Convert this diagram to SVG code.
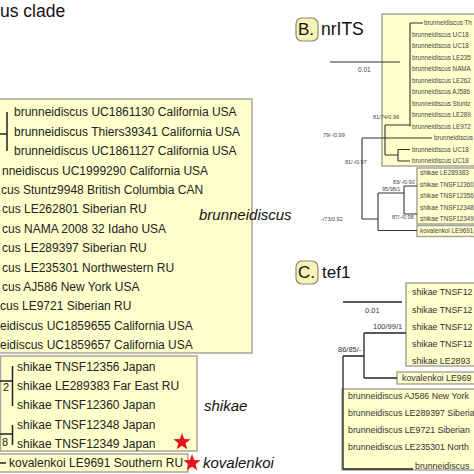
<svg xmlns="http://www.w3.org/2000/svg" xmlns:xlink="http://www.w3.org/1999/xlink" width="474" height="474" viewBox="0 0 474 474">
<style>
.box{fill:#ffffcc;stroke:#a6a69a;stroke-width:1.5}
.t{font-family:"Liberation Sans",Arial,sans-serif;fill:#222}
.a{font-size:12px}
.it{font-size:15px;font-style:italic;fill:#111}
.ttl{font-size:17px;fill:#111}
.b{font-size:6.3px;fill:#444}
.sb{font-size:5.5px;fill:#444}
.c{font-size:8.8px;fill:#333}
.sc{font-size:7.5px;fill:#333}
.ln{stroke:#222;stroke-width:1.5;fill:none}
.lnb{stroke:#333;stroke-width:1.1;fill:none}
.badge{fill:#f7f3b4;stroke:#8a8a70;stroke-width:1.2}
.star{fill:#e8141c}
</style>
<defs>
<polygon id="star" points="0,-9 2.23,-3.07 8.56,-2.78 3.61,1.17 5.29,7.28 0,3.8 -5.29,7.28 -3.61,1.17 -8.56,-2.78 -2.23,-3.07"/>
</defs>

<!-- Panel A -->
<g id="A-title"><text class="t ttl" x="0" y="17" style="font-size:17.5px">us clade</text></g>

<g id="A-brunneidiscus">
<rect class="box" x="-2" y="99" width="254" height="254"/>
<g class="t a">
<text x="14" y="116.3">brunneidiscus UC1861130 California USA</text>
<text x="14" y="135.7">brunneidiscus Thiers39341 California USA</text>
<text x="14" y="155.1">brunneidiscus UC1861127 California USA</text>
<text x="2" y="174.5">nneidiscus UC1999290 California USA</text>
<text x="1" y="193.9">cus Stuntz9948 British Columbia CAN</text>
<text x="2" y="213.3">cus LE262801 Siberian RU</text>
<text x="2" y="232.7">cus NAMA 2008 32 Idaho USA</text>
<text x="2" y="252.1">cus LE289397 Siberian RU</text>
<text x="2" y="271.5">cus LE235301 Northwestern RU</text>
<text x="2" y="290.9">cus AJ586 New York USA</text>
<text x="0" y="310.3">cus LE9721 Siberian RU</text>
<text x="0" y="329.7">eidiscus UC1859655 California USA</text>
<text x="0" y="349.1">eidiscus UC1859657 California USA</text>
</g>
<text class="t it" x="199" y="220.4">brunneidiscus</text>
</g>

<g id="A-shikae">
<rect class="box" x="0.5" y="356" width="196.5" height="95"/>
<g class="t a">
<text x="17" y="370.8">shikae TNSF12356 Japan</text>
<text x="17" y="390.1">shikae LE289383 Far East RU</text>
<text x="17" y="409.4">shikae TNSF12360 Japan</text>
<text x="17" y="428.7">shikae TNSF12348 Japan</text>
<text x="17" y="448">shikae TNSF12349 Japan</text>
<text x="3" y="391" style="font-size:11px">2</text>
<text x="2" y="446" style="font-size:11px">8</text>
</g>
<use xlink:href="#star" class="star" x="182" y="442"/>
<text class="t it" x="204" y="411.4">shikae</text>
</g>

<g id="A-kovalenkoi">
<rect class="box" x="-2" y="454" width="190" height="18"/>
<text class="t a" x="9" y="467.3">kovalenkoi LE9691 Southern RU</text>
<use xlink:href="#star" class="star" x="192" y="463"/>
<text class="t it" x="203" y="468.4">kovalenkoi</text>
</g>

<!-- Panel B -->
<g id="B-title">
<rect class="badge" x="296" y="18" width="22" height="23" rx="6"/>
<text class="t ttl" x="298" y="35">B.</text>
<text class="t ttl" x="321" y="35" style="font-size:17.5px">nrITS</text>
</g>

<g id="B-brunneidiscus">
<rect class="box" x="382" y="14" width="100" height="152"/>
<g class="t b">
<text x="424" y="25.2">brunneidiscus Th</text>
<text x="412" y="36.7">brunneidiscus UC18</text>
<text x="412" y="48.2">brunneidiscus UC18</text>
<text x="412" y="59.7">brunneidiscus LE235</text>
<text x="412" y="71.2">brunneidiscus NAMA</text>
<text x="412" y="82.7">brunneidiscus LE262</text>
<text x="412" y="94.2">brunneidiscus AJ586</text>
<text x="412" y="105.7">brunneidiscus Stuntz</text>
<text x="412" y="117.2">brunneidiscus LE289</text>
<text x="412" y="128.7">brunneidiscus LE972</text>
<text x="434" y="140.2">brunneidiscus</text>
<text x="412" y="151.7">brunneidiscus UC18</text>
<text x="412" y="163.2">brunneidiscus UC18</text>
</g>
</g>

<g id="B-shikae">
<rect class="box" x="417" y="168" width="65" height="56"/>
<g class="t b">
<text x="420" y="175.2">shikae LE289383</text>
<text x="420" y="186.7">shikae TNSF12360</text>
<text x="420" y="198.2">shikae TNSF12356</text>
<text x="420" y="209.7">shikae TNSF12348</text>
<text x="420" y="221.2">shikae TNSF12349</text>
</g>
</g>

<g id="B-kovalenkoi">
<rect class="box" x="417" y="225.5" width="65" height="11"/>
<text class="t b" x="420" y="232.7">kovalenkoi LE9691</text>
</g>

<g id="B-supports" class="t sb">
<text x="373" y="119">81/74/0.99</text>
<text x="323" y="137">79/-/0.99</text>
<text x="345" y="164">81/-/0.97</text>
<text x="393" y="183.5">83/-/0.90</text>
<text x="382" y="191">95/98/1</text>
<text x="321" y="221">-/73/0.92</text>
<text x="392" y="219">87/-/0.98</text>
<text x="358" y="72" style="font-size:6.5px">0.01</text>
</g>

<!-- Panel C -->
<g id="C-title">
<rect class="badge" x="296" y="261" width="22" height="23" rx="6"/>
<text class="t ttl" x="298" y="278">C.</text>
<text class="t ttl" x="322" y="278">tef1</text>
</g>

<g id="C-shikae">
<rect class="box" x="406" y="283" width="76" height="83"/>
<g class="t c">
<text x="412" y="295.2">shikae TNSF12</text>
<text x="412" y="312.7">shikae TNSF12</text>
<text x="412" y="330.2">shikae TNSF12</text>
<text x="412" y="347.2">shikae TNSF12</text>
<text x="412" y="364.2">shikae LE2893</text>
</g>
</g>

<g id="C-kovalenkoi">
<rect class="box" x="397" y="372" width="85" height="12"/>
<text class="t c" x="402" y="381.2">kovalenkoi LE969</text>
</g>

<g id="C-brunneidiscus">
<rect class="box" x="342" y="389" width="140" height="81"/>
<g class="t c">
<text x="348" y="399.2">brunneidiscus AJ586 New York</text>
<text x="348" y="416.2">brunneidiscus LE289397 Siberia</text>
<text x="348" y="433.2">brunneidiscus LE9721 Siberian</text>
<text x="348" y="450.2">brunneidiscus LE235301 North</text>
<text x="415" y="469.2">brunneidiscus</text>
</g>
</g>

<g id="C-supports" class="t sc">
<text x="365" y="313">0.01</text>
<text x="373" y="329">100/99/1</text>
<text x="338" y="352">86/85/-</text>
</g>

<!-- Connectors -->
<g id="connectors">
<g class="ln">
<path d="M7,112 V151 M0,134 H7"/>
<path d="M12.5,366 V406 M0,381 H12.5"/>
<path d="M12.5,425 V445 M0,434 H12.5"/>
<path d="M0,463 H6"/>
</g>
<g class="lnb">
<path d="M330,62 H400"/>
<path d="M410,23 V126.5 M410,23 H423"/>
<path d="M385,125 V155 M385,125 H410 M385,138 H432 M385,155 H398"/>
<path d="M398,149.5 V161 M398,149.5 H410 M398,161 H410"/>
<path d="M362,138 V219 M362,138 H385 M362,219 H378"/>
<path d="M378,193 V230.5 M378,193 H404 M378,230.5 H417"/>
<path d="M404,186 V214 M404,186 H417 M404,214 H417"/>
</g>
<g class="ln" style="stroke-width:1.3">
<path d="M343,302 H402"/>
<path d="M364,333 H406 M364,333 V378 M364,378 H397"/>
<path d="M343,356 H364 M343,356 V469 M343,469 H413"/>
</g>
</g>
</svg>
